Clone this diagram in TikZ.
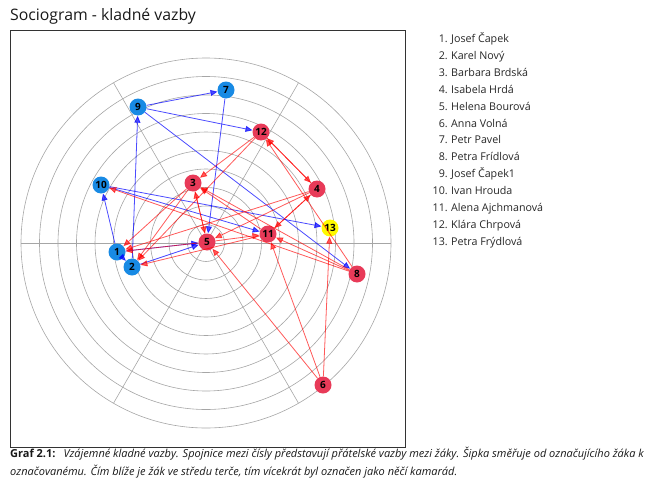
\documentclass[tikz,border=0pt]{standalone}
\usepackage{fontspec}
\setmainfont{Open Sans}
\usetikzlibrary{arrows.meta}
\definecolor{zakmodra}{RGB}{24,138,228}
\definecolor{zakcervena}{RGB}{232,58,88}
\definecolor{zakzluta}{RGB}{255,250,0}
\tikzset{
	zak/.style={circle,inner sep=0pt,minimum size=17pt,font=\fontsize{10}{10}\selectfont\bfseries},
	modry/.style={zak,fill=zakmodra},
	cerveny/.style={zak,fill=zakcervena},
	zluty/.style={zak,fill=zakzluta},
	kruh/.style={draw=black!35,line width=.6pt},
	mv/.style={draw=blue,opacity=.7,line width=.8pt,-{Triangle[length=7pt,width=6pt]}},
	cv/.style={draw=red,opacity=.65,line width=.8pt,-{Triangle[length=7pt,width=6pt]}},
	legenda/.style={inner sep=0pt,text=black!85,font=\fontsize{10.7}{12}\selectfont}
}
\begin{document}
\begin{tikzpicture}[x=1pt,y=-1pt]
	\useasboundingbox (0,0) rectangle (650,487);
	\node[anchor=base west,inner sep=0pt,text=black!90,font=\fontsize{15.8}{16}\selectfont] (nadpis) at (10,21) {Sociogram - kladné vazby};
	\draw[black!80,line width=.8pt] (10.5,30) rectangle (405,447);
	% terc
	\coordinate (stred) at (206,243);
	\foreach \r in {1,...,10}
		\draw[kruh] (stred) circle[radius=\r*18.5pt];
	\foreach \a in {0,60,...,300}
		\draw[kruh] (stred) -- ++(\a:185pt);
	% zaci
	\node[modry] (z1) at (117,252) {1};
	\node[modry] (z2) at (132,267) {2};
	\node[cerveny] (z3) at (193,183) {3};
	\node[cerveny] (z4) at (317,189) {4};
	\node[cerveny] (z5) at (207,242) {5};
	\node[cerveny] (z6) at (323,385) {6};
	\node[modry] (z7) at (226,90) {7};
	\node[cerveny] (z8) at (357,274) {8};
	\node[modry] (z9) at (138,107) {9};
	\node[modry] (z10) at (101,185) {10};
	\node[cerveny] (z11) at (268,234) {11};
	\node[cerveny] (z12) at (261,132) {12};
	\node[zluty] (z13) at (330,228) {13};
	% vazby
	\draw[mv] (z9) -- (z7);
	\draw[mv] (z9) -- (z12);
	\draw[mv] (z9) -- (z8);
	\draw[mv] (z7) -- (z5);
	\draw[mv] (z2) -- (z9);
	\draw[mv] (z10) -- (z13);
	\draw[mv] (z10) -- (z11);
	\draw[mv] (z1) -- (z10);
	\draw[mv] (z1) -- (z2);
	\draw[mv] (z1) -- (z5);
	\draw[mv] (z2) -- (z5);
	\draw[cv] (z12) -- (z3);
	\draw[cv] (z12) -- (z2);
	\draw[cv] (z12) -- (z4);
	\draw[cv] (z4) -- (z12);
	\draw[cv] (z3) -- (z1);
	\draw[cv] (z3) -- (z2);
	\draw[cv] (z3) -- (z5);
	\draw[cv] (z5) -- (z3);
	\draw[cv] (z11) -- (z3);
	\draw[cv] (z8) -- (z3);
	\draw[cv] (z4) -- (z5);
	\draw[cv] (z4) -- (z11);
	\draw[cv] (z11) -- (z4);
	\draw[cv] (z4) -- (z1);
	\draw[cv] (z5) -- (z1);
	\draw[cv] (z5) -- (z11);
	\draw[cv] (z11) -- (z2);
	\draw[cv] (z6) -- (z5);
	\draw[cv] (z6) -- (z11);
	\draw[cv] (z6) -- (z13);
	\draw[cv] (z8) -- (z11);
	\draw[cv] (z8) -- (z10);
	\draw[cv] (z8) -- (z12);
	% legenda
	\foreach \i/\jm in {1/Josef Čapek,2/Karel Nový,3/Barbara Brdská,4/Isabela Hrdá,5/Helena Bourová,6/Anna Volná,7/Petr Pavel,8/Petra Frídlová,9/Josef Čapek1,10/Ivan Hrouda,11/Alena Ajchmanová,12/Klára Chrpová,13/Petra Frýdlová}{
		\node[legenda,anchor=base east] (c\i) at (448,{42.5+16.9*(\i-1)}) {\i.};
		\node[legenda,anchor=base west] (j\i) at ([xshift=3pt]c\i.base east) {\jm};
	}
	% popis
	\node[anchor=base west,inner sep=0pt,text=black!90,font=\fontsize{11}{12}\selectfont] (popis1) at (10,457) {\textbf{Graf 2.1:}\hspace{8pt}\textit{Vzájemné kladné vazby. Spojnice mezi čísly představují přátelské vazby mezi žáky. Šipka směřuje od označujícího žáka k}};
	\node[anchor=base west,inner sep=0pt,text=black!90,font=\fontsize{11}{12}\selectfont\itshape] (popis2) at (10,475) {označovanému. Čím blíže je žák ve středu terče, tím vícekrát byl označen jako něčí kamarád.};
\end{tikzpicture}
\end{document}
